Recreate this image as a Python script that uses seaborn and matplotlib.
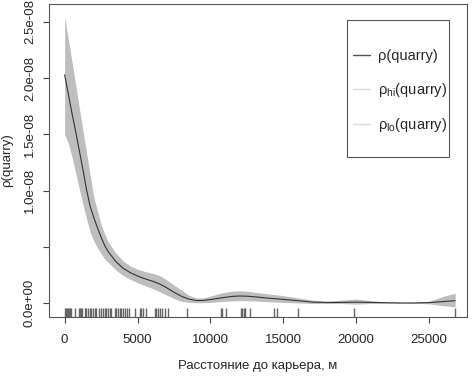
import numpy as np
import pandas as pd
import matplotlib
matplotlib.use("Agg")
import matplotlib.pyplot as plt
from matplotlib.lines import Line2D
from matplotlib.patches import Rectangle
import seaborn as sns

# Distance grid (m) and intensity estimate with its band
dist = [0, 250, 500, 750, 1000, 1250, 1500, 1750, 2000, 2250, 2500, 2750, 3000,
        3500, 4000, 4500, 5000, 5500, 6000, 6500, 7000, 7500, 8000, 8500, 9000,
        9500, 10000, 10500, 11000, 11500, 12000, 12500, 13000, 14000, 15000,
        16000, 17000, 18000, 19000, 20000, 21000, 22000, 23000, 24000, 25000,
        26000, 26786]
rho = [20.3, 18.6, 16.9, 15.3, 13.6, 11.9, 10.1, 8.6, 7.6, 6.7, 5.85, 5.1, 4.55,
       3.7, 3.1, 2.7, 2.4, 2.15, 1.95, 1.7, 1.35, 0.95, 0.6, 0.35, 0.22,
       0.22, 0.3, 0.4, 0.5, 0.58, 0.62, 0.6, 0.55, 0.42, 0.32,
       0.2, 0.08, 0.04, 0.05, 0.07, 0.05, 0.02, 0.0, 0.0, 0.03,
       0.13, 0.2]
rho_hi = [25.5, 23.5, 21.5, 19.5, 17.4, 15.4, 13.4, 11.4, 9.4, 8.2, 7.0, 6.1, 5.4,
          4.45, 3.75, 3.3, 3.0, 2.8, 2.65, 2.45, 2.05, 1.6, 1.15, 0.7, 0.45,
          0.45, 0.6, 0.8, 0.95, 1.05, 1.08, 1.05, 0.95, 0.8, 0.65,
          0.45, 0.25, 0.15, 0.25, 0.35, 0.2, 0.08, 0.03, 0.04, 0.15,
          0.6, 0.86]
rho_lo = [15.0, 14.2, 13.0, 11.6, 10.2, 8.8, 7.5, 6.3, 5.5, 4.9, 4.4, 3.9, 3.6,
          2.95, 2.45, 2.1, 1.8, 1.55, 1.3, 1.0, 0.7, 0.4, 0.15, 0.05, 0.02,
          0.02, 0.05, 0.1, 0.15, 0.18, 0.2, 0.2, 0.18, 0.1, 0.05,
          0.0, -0.05, -0.05, -0.05, -0.1, -0.05, -0.03, -0.02, -0.03, -0.08,
          -0.25, -0.35]

# Observed distances of the points (rug)
obs = [0, 69, 160, 229, 298, 389, 458, 687, 985, 1053, 1122, 1190, 1374, 1488,
       1603, 1717, 1831, 1946, 2060, 2175, 2358, 2518, 2633, 2747, 2862, 2976,
       3091, 3205, 3434, 3549, 3663, 3778, 3892, 4007, 4121, 4281, 4418, 4808,
       5151, 5266, 5380, 5563, 6181, 6296, 6410, 6525, 6708, 6868, 7097, 8400,
       10714, 10806, 11070, 12088, 12180, 12271, 12363, 12706, 14330, 14560,
       15980, 19849, 26786]

y_ticks = [0, 5e-9, 1e-8, 1.5e-8, 2e-8, 2.5e-8]
y_ticklabels = ["0.0e+00", "", "1.0e-08", "1.5e-08", "2.0e-08", "2.5e-08"]
x_ticks = [0, 5000, 10000, 15000, 20000, 25000]

df = pd.DataFrame({"dist": dist,
                   "rho": np.array(rho) * 1e-9,
                   "hi": np.array(rho_hi) * 1e-9,
                   "lo": np.array(rho_lo) * 1e-9})
rug = pd.DataFrame({"obs": obs})

sns.set_style("ticks")
plt.rcParams["font.family"] = ["Liberation Sans", "DejaVu Sans"]
plt.rcParams["mathtext.fontset"] = "custom"
plt.rcParams["mathtext.rm"] = "Liberation Sans"

fig = plt.figure(figsize=(4.74, 3.8), dpi=100)
ax = fig.add_axes([0.1034, 0.1658, 0.8816, 0.8237])

ax.fill_between(df["dist"], df["lo"], df["hi"], color="#bebebe", lw=0)
sns.lineplot(data=df, x="dist", y="rho", ax=ax, color="#333333", lw=0.8)
sns.rugplot(data=rug, x="obs", ax=ax, height=0.03, color="#666666", lw=0.6)

xmax = max(dist)
ax.set_xlim(-0.04 * xmax, 1.03 * xmax)
ax.set_ylim(-1.25e-9, 2.66e-8)

ax.set_xticks(x_ticks)
ax.set_xticklabels([str(t) for t in x_ticks], fontsize=9.5)
ax.set_yticks(y_ticks)
ax.set_yticklabels(y_ticklabels, fontsize=9.5, rotation=90, va="center")
ax.tick_params(axis="x", length=4.5, width=0.8, color="#444444", pad=8)
ax.tick_params(axis="y", length=4.5, width=0.8, color="#444444", pad=5)

ax.set_xlabel("Расстояние до карьера, м", fontsize=9.5, labelpad=10)
ax.set_ylabel("ρ(quarry)", fontsize=9.5, labelpad=8)

for s in ax.spines.values():
    s.set_visible(True)
    s.set_color("#555555")
    s.set_linewidth(0.8)

# legend frame and entries
ax.add_patch(Rectangle((0.713, 0.511), 0.244, 0.438, transform=ax.transAxes,
                       fill=False, ec="#555555", lw=0.8, zorder=5))
handles = [Line2D([], [], color="#555555", lw=1.0),
           Line2D([], [], color="#dddddd", lw=1.0),
           Line2D([], [], color="#dddddd", lw=1.0)]
labels = ["ρ(quarry)", r"ρ$_{\mathregular{hi}}$(quarry)", r"ρ$_{\mathregular{lo}}$(quarry)"]
ax.legend(handles, labels, loc="upper left", bbox_to_anchor=(0.727, 0.855),
          frameon=False, fontsize=10.5, borderpad=0, borderaxespad=0,
          handlelength=1.2, handletextpad=0.5, labelspacing=1.2)

fig.savefig("out.png", dpi=100)
